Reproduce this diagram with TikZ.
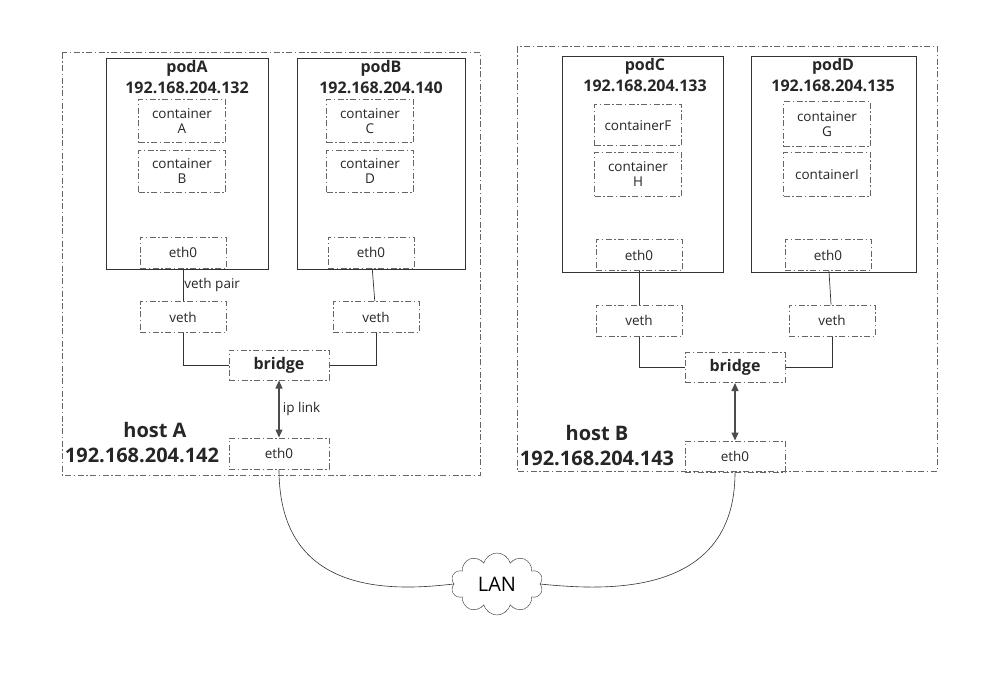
\documentclass[tikz,border=0pt]{standalone}
\usepackage{fontspec}
\setmainfont{Open Sans}
\usetikzlibrary{shapes.symbols,arrows.meta}
\begin{document}
\begin{tikzpicture}[x=1pt,y=-1pt,
  dd/.style={draw=gray!80!black, dash pattern=on 6pt off 2.5pt on 1.5pt off 2.5pt, line width=1pt},
  host/.style={dd},
  pod/.style={draw=black!80, line width=0.9pt},
  small/.style={font=\fontsize{13.5}{15}\selectfont, align=center, text=black!85},
  big/.style={font=\bfseries\fontsize{16}{18}\selectfont, text=black!85},
  huge/.style={font=\bfseries\fontsize{20}{22}\selectfont, text=black!85},
  wire/.style={draw=black!80, line width=0.7pt},
  arr/.style={draw=black!70, line width=1.2pt, {Triangle[length=8pt,width=7pt]}-{Triangle[length=8pt,width=7pt]}}]
\useasboundingbox (0,0) rectangle (999,682);
% hosts
\draw[host] (62,53) rectangle (480,475);
\draw[host] (517,47) rectangle (937,471);
% pods
\draw[pod] (106,58) rectangle (268,269);
\draw[pod] (297,58) rectangle (465,269);
\draw[pod] (562,56) rectangle (723,272);
\draw[pod] (751,56) rectangle (916,272);
\node[big] (tA) at (187,68) {podA};
\node[big] (iA) at (187,88) {192.168.204.132};
\node[big] (tB) at (381,68) {podB};
\node[big] (iB) at (381,88) {192.168.204.140};
\node[big] (tC) at (645,66) {podC};
\node[big] (iC) at (645,86) {192.168.204.133};
\node[big] (tD) at (833,66) {podD};
\node[big] (iD) at (833,86) {192.168.204.135};
% inner boxes
\tikzset{ib/.style={dd, small, minimum width=87pt, inner sep=0pt}}
\node[ib, minimum height=43pt] (cA) at (182,121.5) {container\\A};
\node[ib, minimum height=41pt] (cB) at (182,171.5) {container\\B};
\node[ib, minimum height=43pt] (cC) at (370,121.5) {container\\C};
\node[ib, minimum height=41pt] (cD) at (370,171.5) {container\\D};
\node[ib, minimum height=41pt] (cF) at (638,125.5) {containerF};
\node[ib, minimum height=43pt] (cH) at (638,174.5) {container\\H};
\node[ib, minimum height=45pt] (cG) at (827,124.5) {container\\G};
\node[ib, minimum height=43pt] (cI) at (827,174.5) {containerI};
\tikzset{pb/.style={dd, small, minimum width=86pt, minimum height=31pt, inner sep=0pt}}
\node[pb] (eA) at (183,252.5) {eth0};
\node[pb] (eB) at (371,252.5) {eth0};
\node[pb] (eC) at (639,255) {eth0};
\node[pb] (eD) at (828,255) {eth0};
\node[pb] (vA) at (183,317) {veth};
\node[pb] (vB) at (376,317) {veth};
\node[pb] (vC) at (639,320.5) {veth};
\node[pb] (vD) at (832,320.5) {veth};
\tikzset{bb/.style={dd, big, minimum width=100pt, minimum height=30pt, inner sep=0pt}}
\node[bb] (bA) at (279,365) {bridge};
\node[bb] (bB) at (735,367.5) {bridge};
\node[pb, minimum width=100pt] (hA) at (279,453.5) {eth0};
\node[pb, minimum width=100pt] (hB) at (735,456.5) {eth0};
% host labels
\node[huge] (lA) at (155,430) {host A};
\node[huge] (lAi) at (142,455) {192.168.204.142};
\node[huge] (lB) at (597,433) {host B};
\node[huge] (lBi) at (597,458) {192.168.204.143};
% wires
\draw[wire] (eA) -- node[right, small, inner sep=1pt] {veth pair} (vA);
\draw[wire] (eB) -- (vB);
\draw[wire] (eC) -- (vC);
\draw[wire] (eD) -- (vD);
\draw[wire] (vA.south) |- (bA.west);
\draw[wire] (vB.south) |- (bA.east);
\draw[wire] (vC.south) |- (bB.west);
\draw[wire] (vD.south) |- (bB.east);
\draw[arr] (bA) -- node[right, small] {ip link} (hA);
\draw[arr] (bB) -- (hB);
% LAN
\node[cloud, draw=black!80, fill=white, cloud puffs=10, aspect=1.5, minimum width=92pt, minimum height=62pt, inner sep=0pt, font=\fontsize{20}{22}\selectfont] (lan) at (497,584) {LAN};
\draw[wire, line width=0.6pt] (hA.south) .. controls (279,600) and (400,590) .. (lan.west);
\draw[wire, line width=0.6pt] (hB.south) .. controls (735,600) and (600,590) .. (lan.east);
\end{tikzpicture}
\end{document}
